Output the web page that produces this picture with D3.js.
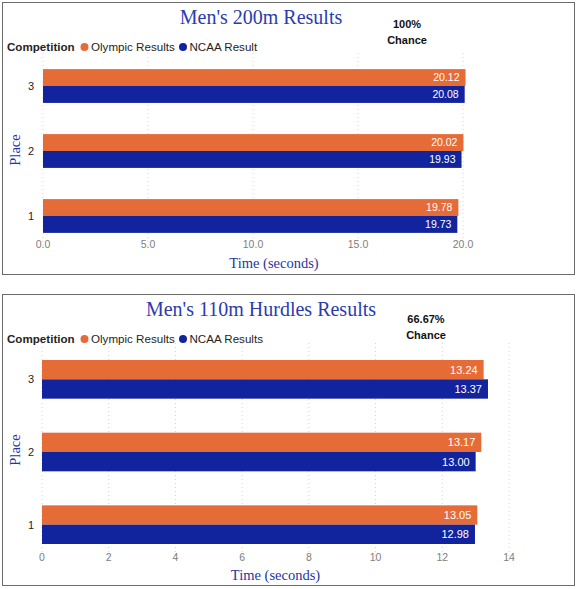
<!DOCTYPE html>
<html>
<head>
<meta charset="utf-8">
<script src="https://cdn.jsdelivr.net/npm/d3@7"></script>
<style>
  body { margin: 0; background: #fff; }
  svg { display: block; }
</style>
</head>
<body>
<div id="chart"></div>
<script>
// Data
const places = ["3", "2", "1"];
const olympic200 = [20.12, 20.02, 19.78];
const ncaa200 = [20.08, 19.93, 19.73];
const olympicHurdles = [13.24, 13.17, 13.05];
const ncaaHurdles = [13.37, 13.00, 12.98];
const ticks200 = [0, 5, 10, 15, 20];
const ticksHurdles = [0, 2, 4, 6, 8, 10, 12, 14];
const legend200 = ["Olympic Results", "NCAA Result"];
const legendHurdles = ["Olympic Results", "NCAA Results"];

const colors = ["#E66C37", "#12239E"];
const sans = "'Liberation Sans', Arial, sans-serif";
const serif = "'Liberation Serif', 'DejaVu Serif', serif";

const svg = d3.select("#chart")
    .append("svg")
    .attr("width", 579)
    .attr("height", 589);

function drawPanel(p) {
    const g = svg.append("g");

    // frame
    g.append("rect")
        .attr("x", 2.5).attr("y", p.top + 0.5)
        .attr("width", 572).attr("height", p.height)
        .attr("fill", "#fff")
        .attr("stroke", "#6b6b6b");

    const x = d3.scaleLinear()
        .domain([0, p.max])
        .range([p.x0, p.x1]);

    const y0 = d3.scaleBand()
        .domain(places)
        .range([p.plotTop, p.plotBottom])
        .paddingInner(p.padIn)
        .paddingOuter(p.padOut);

    const y1 = d3.scaleBand()
        .domain(p.legend)
        .range([0, y0.bandwidth()]);

    // dotted gridlines
    g.selectAll(".grid")
        .data(p.ticks)
        .enter().append("line")
        .attr("x1", d => x(d)).attr("x2", d => x(d))
        .attr("y1", p.plotTop).attr("y2", p.plotBottom)
        .attr("stroke", "#d4d4d4")
        .attr("stroke-dasharray", "1,3");

    // bars
    const rows = places.map((pl, i) => ({
        place: pl,
        vals: [p.olympic[i], p.ncaa[i]]
    }));

    const grp = g.selectAll(".grp")
        .data(rows)
        .enter().append("g")
        .attr("transform", d => `translate(0,${y0(d.place)})`);

    grp.selectAll("rect")
        .data(d => d.vals.map((v, k) => ({ key: p.legend[k], v: v, k: k })))
        .enter().append("rect")
        .attr("x", x(0))
        .attr("y", d => y1(d.key))
        .attr("width", d => x(d.v) - x(0))
        .attr("height", y1.bandwidth())
        .attr("fill", d => colors[d.k]);

    grp.selectAll("text")
        .data(d => d.vals.map((v, k) => ({ key: p.legend[k], v: v })))
        .enter().append("text")
        .attr("x", d => x(d.v) - 6)
        .attr("y", d => y1(d.key) + y1.bandwidth() / 2)
        .attr("dy", "0.35em")
        .attr("text-anchor", "end")
        .attr("fill", "#fff")
        .style("font-family", sans)
        .style("font-size", p.labelSize + "px")
        .text(d => d.v.toFixed(2));

    // x axis labels
    g.selectAll(".xt")
        .data(p.ticks)
        .enter().append("text")
        .attr("x", d => x(d))
        .attr("y", p.tickY)
        .attr("dy", "0.35em")
        .attr("text-anchor", "middle")
        .attr("fill", "#808080")
        .style("font-family", sans)
        .style("font-size", "10.5px")
        .text(d => d3.format(p.fmt)(d));

    // y axis labels
    g.selectAll(".yt")
        .data(places)
        .enter().append("text")
        .attr("x", 31)
        .attr("y", d => y0(d) + y0.bandwidth() / 2)
        .attr("dy", "0.35em")
        .attr("text-anchor", "middle")
        .attr("fill", "#252423")
        .style("font-family", sans)
        .style("font-size", "11px")
        .text(d => d);

    // axis titles
    g.append("text")
        .attr("x", (p.x0 + p.x1) / 2 + p.titleShift)
        .attr("y", p.xTitleY)
        .attr("dy", "0.35em")
        .attr("text-anchor", "middle")
        .attr("fill", "#2536a0")
        .style("font-family", serif)
        .style("font-size", "14.5px")
        .text("Time (seconds)");

    g.append("text")
        .attr("transform", `translate(15,${p.yTitleY}) rotate(-90)`)
        .attr("dy", "0.35em")
        .attr("text-anchor", "middle")
        .attr("fill", "#2536a0")
        .style("font-family", serif)
        .style("font-size", "14.5px")
        .text("Place");

    // title
    g.append("text")
        .attr("x", 261)
        .attr("y", p.titleY)
        .attr("text-anchor", "middle")
        .attr("fill", "#2b3bb0")
        .style("font-family", serif)
        .style("font-size", "20px")
        .text(p.title);

    // chance note
    p.note.forEach((t, i) => {
        g.append("text")
            .attr("x", p.noteX)
            .attr("y", p.noteY + i * 16)
            .attr("dy", "0.35em")
            .attr("text-anchor", "middle")
            .attr("fill", "#111")
            .style("font-family", sans)
            .style("font-weight", "bold")
            .style("font-size", "11px")
            .text(t);
    });

    // legend
    g.append("text")
        .attr("x", 7)
        .attr("y", p.legendY)
        .attr("dy", "0.35em")
        .attr("fill", "#252423")
        .style("font-family", sans)
        .style("font-weight", "bold")
        .style("font-size", "11.6px")
        .text("Competition");

    const legX = [84.5, 183];
    p.legend.forEach((name, i) => {
        g.append("circle")
            .attr("cx", legX[i])
            .attr("cy", p.legendY)
            .attr("r", 4)
            .attr("fill", colors[i]);
        g.append("text")
            .attr("x", legX[i] + 6.5)
            .attr("y", p.legendY)
            .attr("dy", "0.35em")
            .attr("fill", "#252423")
            .style("font-family", sans)
            .style("font-size", "11.6px")
            .text(name);
    });
}

drawPanel({
    top: 2, height: 272,
    title: "Men's 200m Results", titleY: 24,
    note: ["100%", "Chance"], noteX: 407, noteY: 24,
    legend: legend200, legendY: 47,
    olympic: olympic200, ncaa: ncaa200,
    max: 20, ticks: ticks200, fmt: ".1f",
    x0: 43, x1: 463,
    plotTop: 53, plotBottom: 249, padIn: 0.48, padOut: 0.248,
    labelSize: 10.5, tickY: 244, xTitleY: 263, yTitleY: 150, titleShift: 21
});

drawPanel({
    top: 294, height: 291,
    title: "Men's 110m Hurdles Results", titleY: 316,
    note: ["66.67%", "Chance"], noteX: 426, noteY: 319,
    legend: legendHurdles, legendY: 339,
    olympic: olympicHurdles, ncaa: ncaaHurdles,
    max: 14, ticks: ticksHurdles, fmt: "d",
    x0: 42, x1: 509,
    plotTop: 343, plotBottom: 561, padIn: 0.468, padOut: 0.234,
    labelSize: 11, tickY: 557, xTitleY: 575, yTitleY: 450, titleShift: 0
});
</script>
</body>
</html>
